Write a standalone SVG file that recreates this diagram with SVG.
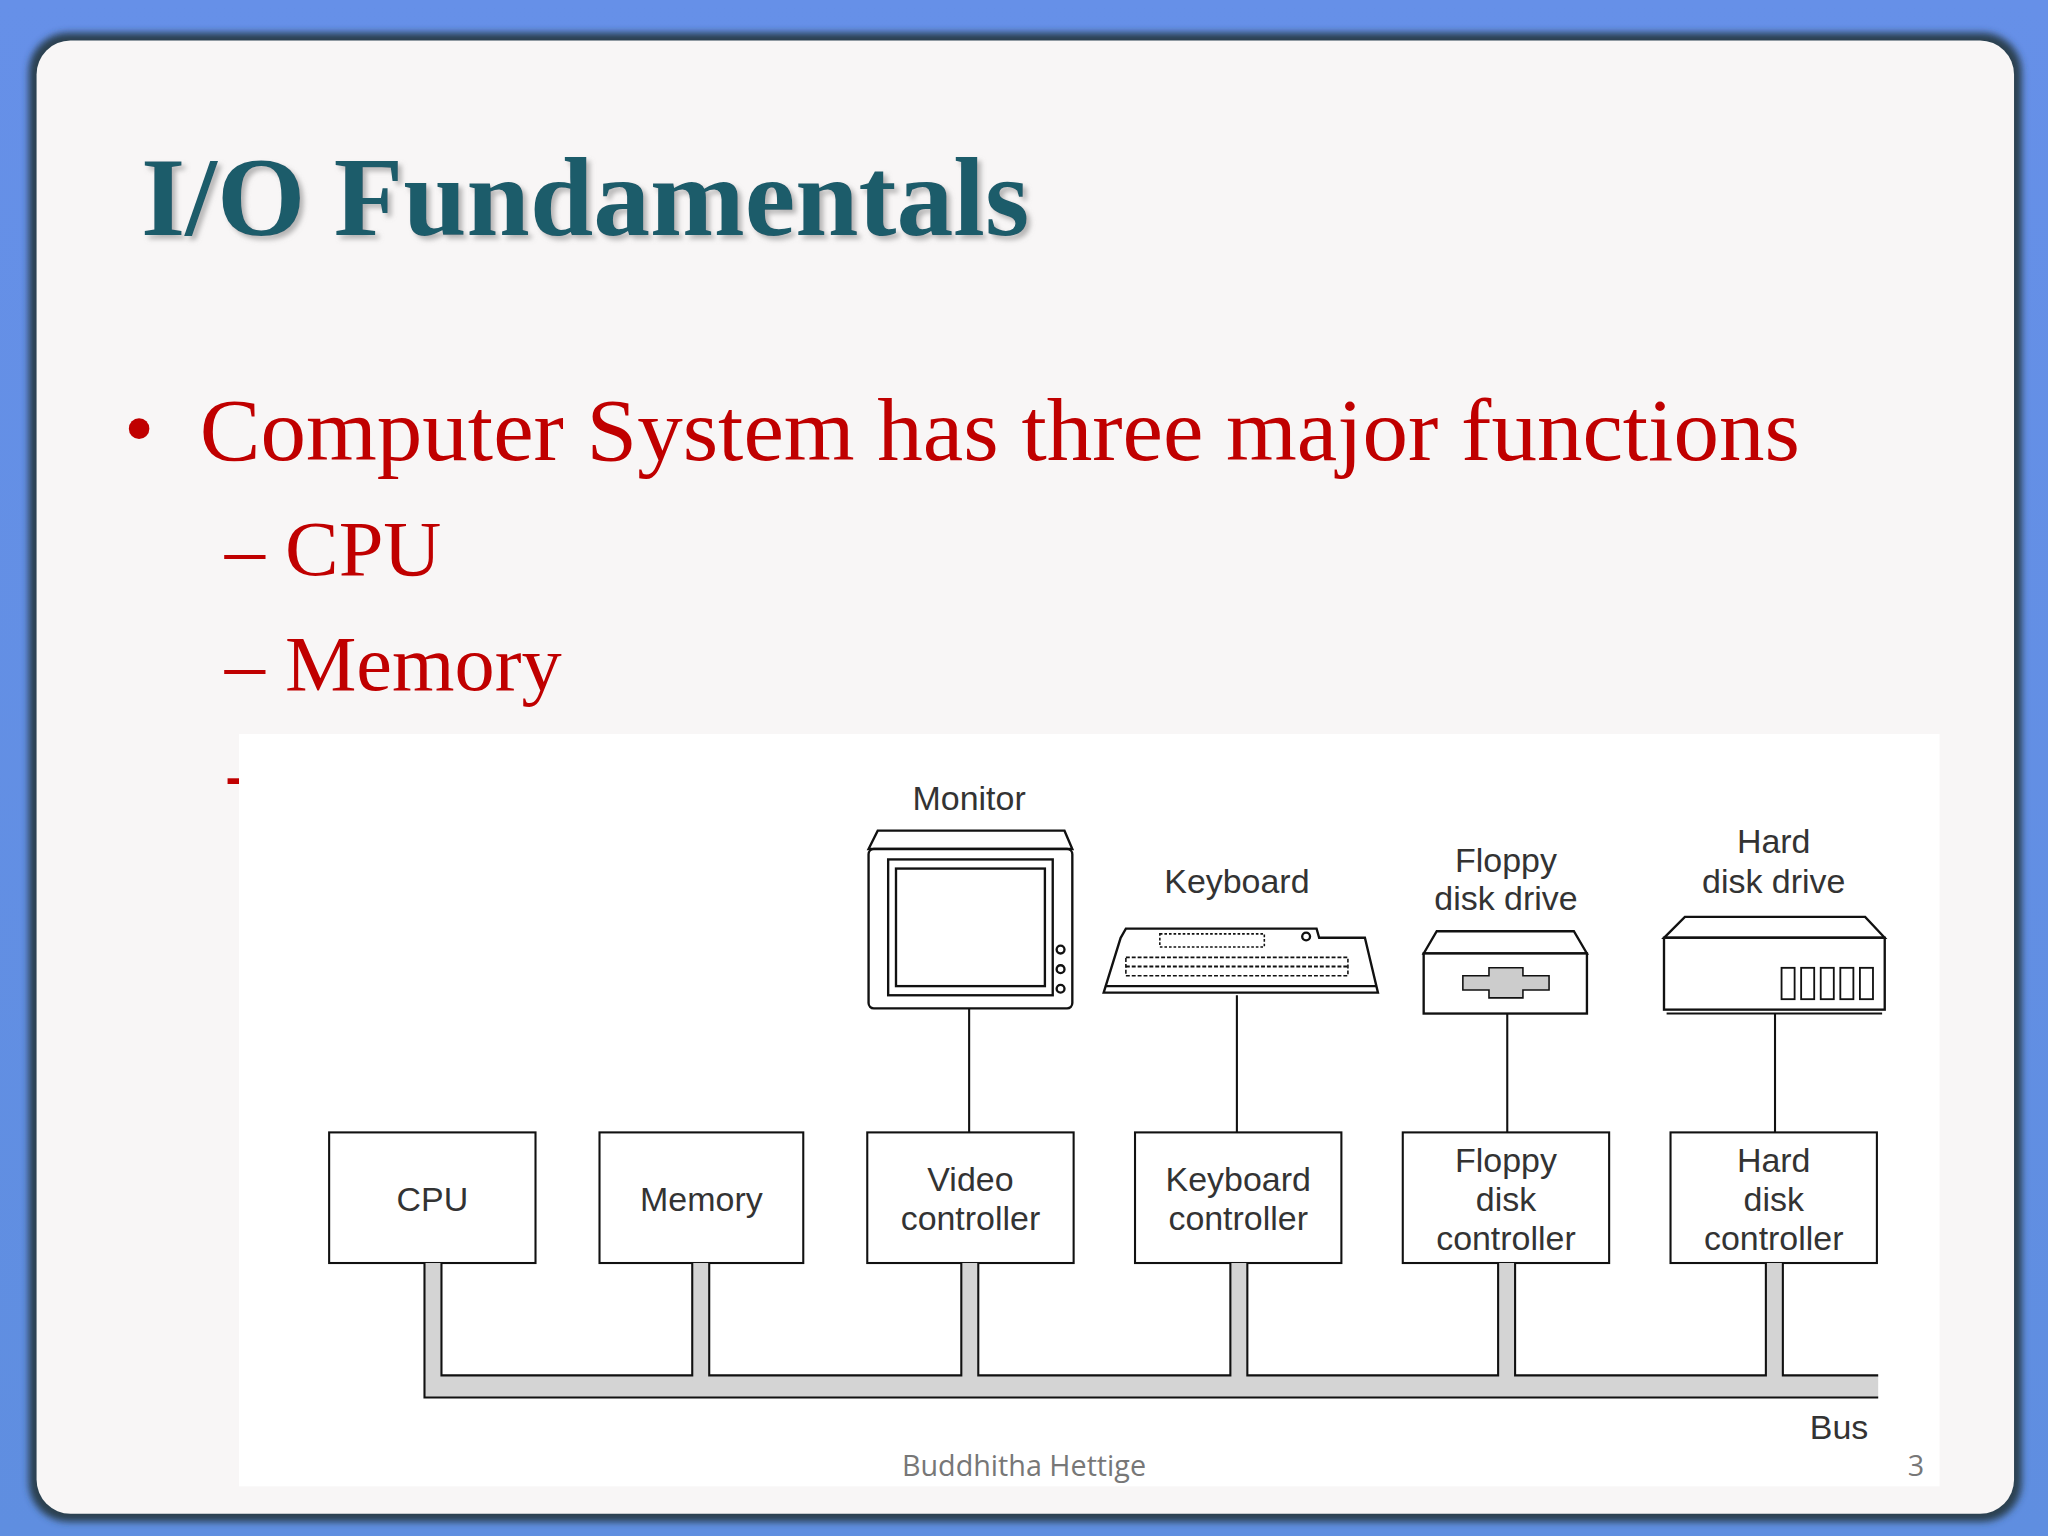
<svg xmlns="http://www.w3.org/2000/svg" width="2048" height="1536" viewBox="0 0 2048 1536">
<defs>
<linearGradient id="bg" x1="0" y1="0" x2="0" y2="1"><stop offset="0" stop-color="#6690e8"/><stop offset="1" stop-color="#5f8ee0"/></linearGradient>
<filter id="sh" x="-5%" y="-5%" width="110%" height="110%"><feGaussianBlur stdDeviation="3"/></filter>
<filter id="tsh"><feDropShadow dx="3" dy="3" stdDeviation="2" flood-color="#888" flood-opacity="0.6"/></filter>
<style>
.box{fill:#fff;stroke:#111;stroke-width:1.6}
.ln{stroke:#111;stroke-width:1.6;fill:none}
.dv{fill:#fff;stroke:#111;stroke-width:1.8}
.lbl{font-family:"Liberation Sans",Arial,sans-serif;font-size:26px;fill:#333;text-anchor:middle}
.red{font-family:"Liberation Serif","Times New Roman",serif;fill:#c00000}
</style>
</defs>
<rect width="2048" height="1536" fill="url(#bg)"/>
<g transform="scale(1.30612)">
<rect x="22" y="25" width="1526" height="1140" rx="30" fill="#2a4050" filter="url(#sh)"/>
<rect x="28" y="31" width="1514" height="1128" rx="26" fill="#f8f6f6"/>
<text x="108" y="180" font-family="Liberation Serif,'Times New Roman',serif" font-weight="bold" font-size="86" fill="#1e5b6b" filter="url(#tsh)" textLength="680" lengthAdjust="spacingAndGlyphs">I/O Fundamentals</text>
<text x="95" y="350" class="red" font-size="66">•</text>
<text x="153" y="352" class="red" font-size="68" textLength="1225" lengthAdjust="spacingAndGlyphs">Computer System has three major functions</text>
<text x="172" y="440" class="red" font-size="60" textLength="166" lengthAdjust="spacingAndGlyphs">– CPU</text>
<text x="172" y="528" class="red" font-size="60" textLength="258" lengthAdjust="spacingAndGlyphs">– Memory</text>
<text x="172" y="612" class="red" font-size="58">-</text>
<rect x="183" y="562" width="1302" height="576" fill="#fff"/>

<g id="cpu"><rect class="box" x="252" y="867" width="158" height="100"/><text class="lbl" x="331" y="927">CPU</text></g>
<g id="memory"><rect class="box" x="459" y="867" width="156" height="100"/><text class="lbl" x="537" y="927">Memory</text></g>
<g id="video"><rect class="box" x="664" y="867" width="158" height="100"/><text class="lbl" x="743" y="912">Video</text><text class="lbl" x="743" y="942">controller</text></g>
<g id="kbc"><rect class="box" x="869" y="867" width="158" height="100"/><text class="lbl" x="948" y="912">Keyboard</text><text class="lbl" x="948" y="942">controller</text></g>
<g id="fdc"><rect class="box" x="1074" y="867" width="158" height="100"/><text class="lbl" x="1153" y="897">Floppy</text><text class="lbl" x="1153" y="927">disk</text><text class="lbl" x="1153" y="957">controller</text></g>
<g id="hdc"><rect class="box" x="1279" y="867" width="158" height="100"/><text class="lbl" x="1358" y="897">Hard</text><text class="lbl" x="1358" y="927">disk</text><text class="lbl" x="1358" y="957">controller</text></g>

<g id="monitor">
<text class="lbl" x="742" y="620">Monitor</text>
<path class="dv" d="M672,636 L815,636 L821,650 L665,650 Z"/>
<rect class="dv" x="665" y="650" width="156" height="122" rx="4"/>
<rect class="dv" x="680" y="658" width="126" height="104"/>
<rect class="dv" x="686" y="665" width="114" height="90"/>
<circle class="dv" cx="812" cy="727" r="3"/><circle class="dv" cx="812" cy="742" r="3"/><circle class="dv" cx="812" cy="757" r="3"/>
</g>
<g id="keyboard">
<text class="lbl" x="947" y="684">Keyboard</text>
<path class="dv" d="M858,718 L862,711 L1008,711 L1010,718 L1045,718 L1055,760 L845,760 Z"/>
<path class="ln" d="M846,755 L1054,755"/>
<rect x="888" y="715" width="80" height="10" fill="#fff" stroke="#111" stroke-width="1.2" stroke-dasharray="2,1.5"/>
<rect x="862" y="733" width="170" height="14" fill="#fff" stroke="#111" stroke-width="1.2" stroke-dasharray="3,1.5"/>
<path class="ln" d="M862,740 L1032,740" stroke-dasharray="3,1.5"/>
<circle class="dv" cx="1000" cy="717" r="3"/>
</g>
<g id="floppy">
<text class="lbl" x="1153" y="668">Floppy</text><text class="lbl" x="1153" y="697">disk drive</text>
<path class="dv" d="M1100,713 L1205,713 L1215,730 L1090,730 Z"/>
<rect class="dv" x="1090" y="730" width="125" height="46"/>
<path d="M1120,747 L1140,747 L1140,741 L1166,741 L1166,747 L1186,747 L1186,758 L1166,758 L1166,764 L1140,764 L1140,758 L1120,758 Z" fill="#ccc" stroke="#111" stroke-width="1.2"/>
</g>
<g id="harddisk">
<text class="lbl" x="1358" y="653">Hard</text><text class="lbl" x="1358" y="684">disk drive</text>
<path class="dv" d="M1290,702 L1428,702 L1443,718 L1274,718 Z"/>
<rect class="dv" x="1274" y="718" width="169" height="55"/>
<path class="ln" d="M1276,776 L1441,776"/>
<g fill="#fff" stroke="#111" stroke-width="1.4">
<rect x="1364" y="741" width="10" height="24"/><rect x="1379" y="741" width="10" height="24"/><rect x="1394" y="741" width="10" height="24"/><rect x="1409" y="741" width="10" height="24"/><rect x="1424" y="741" width="10" height="24"/>
</g>
</g>

<g id="connectors">
<path class="ln" d="M742,772 V867 M947,762 V867 M1154,776 V867 M1359,776 V867"/>
<g fill="#d4d4d4">
<rect x="325" y="1053" width="1113" height="17"/>
<rect x="325" y="967" width="13" height="90"/><rect x="530" y="967" width="13" height="90"/><rect x="736" y="967" width="13" height="90"/>
<rect x="942" y="967" width="13" height="90"/><rect x="1147" y="967" width="13" height="90"/><rect x="1352" y="967" width="13" height="90"/>
</g>
<path class="ln" d="M325,967 V1070 H1438 M338,967 V1053 H530 V967 M543,967 V1053 H736 V967 M749,967 V1053 H942 V967 M955,967 V1053 H1147 V967 M1160,967 V1053 H1352 V967 M1365,967 V1053 H1438"/>
<text class="lbl" x="1408" y="1102">Bus</text>
</g>
<text x="784" y="1130" font-family="'Open Sans','Liberation Sans',sans-serif" font-size="22" fill="#777" text-anchor="middle">Buddhitha Hettige</text>
<text x="1467" y="1130" font-family="'Open Sans','Liberation Sans',sans-serif" font-size="22" fill="#777" text-anchor="middle">3</text>
</g>
</svg>
